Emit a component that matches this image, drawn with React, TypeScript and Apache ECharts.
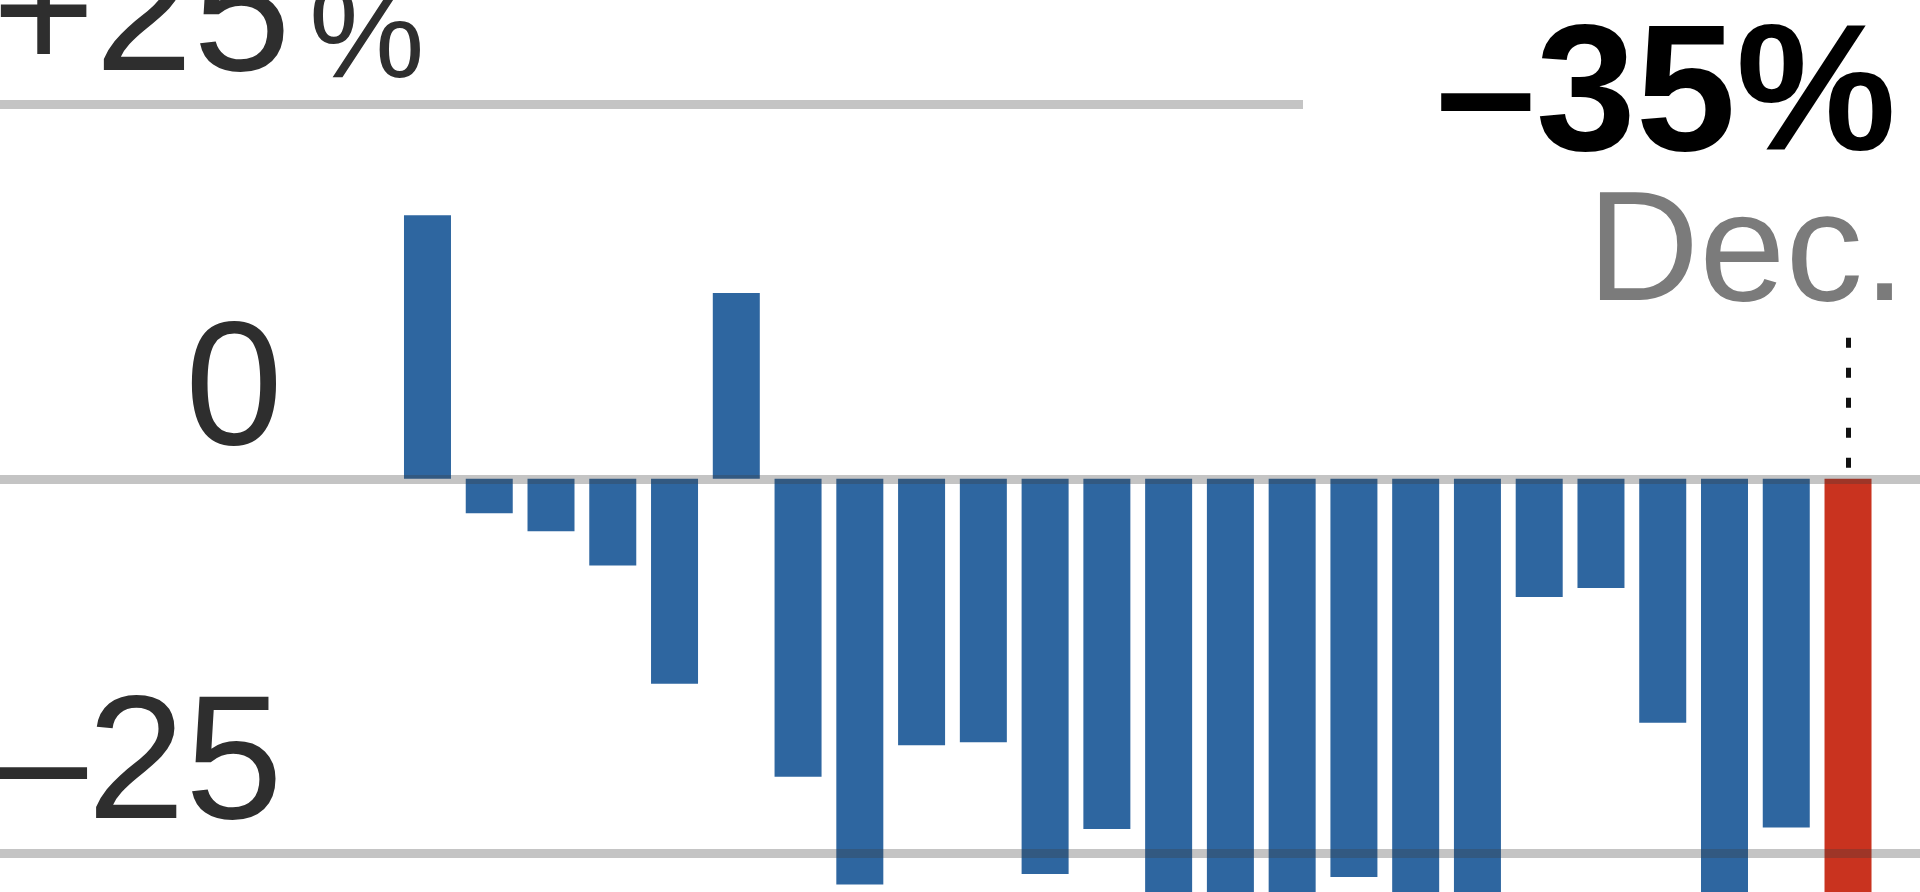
import { useEffect, useRef } from "react";
import * as echarts from "echarts";

// 24 months, the last one is highlighted
const categories = [
  "Jan. 2019", "Feb. 2019", "Mar. 2019", "Apr. 2019", "May 2019", "June 2019",
  "July 2019", "Aug. 2019", "Sept. 2019", "Oct. 2019", "Nov. 2019", "Dec. 2019",
  "Jan. 2020", "Feb. 2020", "Mar. 2020", "Apr. 2020", "May 2020", "June 2020",
  "July 2020", "Aug. 2020", "Sept. 2020", "Oct. 2020", "Nov. 2020", "Dec. 2020",
];

// percent change (bars cut by the frame are estimates)
const changes = [
  17.6, -2.3, -3.5, -5.8, -13.7, 12.4, -19.9, -27.1, -17.8, -17.6, -26.4, -23.4,
  -31, -30, -33, -26.6, -31, -30, -7.9, -7.3, -16.3, -30, -23.3, -35,
];

const yMin = -50;
const yMax = 25;
const yStep = 25;
const calloutTop = 9.6;

const FONT = '"Liberation Sans", Arial, Helvetica, sans-serif';
const BLUE = "#2e66a0";
const RED = "#c9331f";
const INK = "#2e2e2e";

const highlight = changes.length - 1;

function tickLabel(v: number) {
  if (v === 0) return "{v|0}";
  const s = v > 0 ? `+${v}` : `\u2013${Math.abs(v)}`;
  return v === yMax ? `{v|${s}}{p|%}` : `{v|${s}}`;
}

export default function App() {
  const ref = useRef<HTMLDivElement>(null);

  useEffect(() => {
    if (!ref.current) return;
    const chart = echarts.init(ref.current, undefined, { renderer: "svg" });
    const gridTop = 104.5;
    const gridHeight = 1122.75;
    chart.setOption({
      animation: false,
      backgroundColor: "#fff",
      grid: [
        { left: 396.6, top: gridTop, width: 1482.3, height: gridHeight, outerBoundsMode: "none" },
        { left: 0, top: gridTop, width: 1920, height: gridHeight, outerBoundsMode: "none" },
      ],
      xAxis: [
        { type: "category", gridIndex: 0, data: categories, show: false },
        { type: "category", gridIndex: 1, data: [""], show: false },
      ],
      yAxis: [
        { type: "value", gridIndex: 0, min: yMin, max: yMax, interval: yStep, show: false },
        {
          type: "value",
          gridIndex: 1,
          min: yMin,
          max: yMax,
          interval: yStep,
          z: 5,
          axisLine: { show: false },
          axisTick: { show: false },
          splitLine: {
            show: true,
            lineStyle: { color: "rgba(60,60,60,0.3)", width: 9 },
          },
          axisLabel: {
            inside: true,
            margin: 0,
            align: "left",
            verticalAlign: "middle",
            padding: [0, 0, 192, 0],
            formatter: tickLabel,
            rich: {
              v: {
                fontFamily: FONT,
                fontSize: 176,
                color: INK,
                width: 283,
                align: "right",
              },
              p: {
                fontFamily: FONT,
                fontSize: 130,
                color: INK,
                verticalAlign: "bottom",
                padding: [0, 0, 0, 26],
              },
            },
          },
        },
      ],
      series: [
        {
          type: "bar",
          xAxisIndex: 0,
          yAxisIndex: 0,
          barWidth: 47,
          itemStyle: { color: BLUE },
          data: changes.map((v, i) =>
            i === highlight ? { value: v, itemStyle: { color: RED } } : v
          ),
          markLine: {
            silent: true,
            symbol: ["none", "none"],
            label: { show: false },
            lineStyle: { color: "#111", width: 5, type: [10, 20], dashOffset: 19 },
            data: [[{ coord: [highlight, 0] }, { coord: [highlight, calloutTop] }]],
          },
        },
      ],
      graphic: [
        // the top rule stops short of the callout
        {
          type: "rect",
          z: 50,
          shape: { x: 1303, y: 96, width: 617, height: 18 },
          style: { fill: "#fff" },
        },
        {
          type: "text",
          z: 60,
          x: 1896,
          y: 87,
          style: {
            text: `\u2013${Math.abs(changes[highlight])}%`,
            fontFamily: FONT,
            fontSize: 180,
            fontWeight: "bold",
            fill: "#000",
            align: "right",
            verticalAlign: "middle",
          },
        },
        {
          type: "text",
          z: 60,
          x: 1906,
          y: 246,
          style: {
            text: categories[highlight].split(" ")[0],
            fontFamily: FONT,
            fontSize: 155,
            fill: "#7b7b7b",
            align: "right",
            verticalAlign: "middle",
          },
        },
      ],
    });
    return () => chart.dispose();
  }, []);

  return (
    <div
      style={{
        position: "fixed",
        left: 0,
        top: 0,
        width: 1920,
        height: 892,
        overflow: "hidden",
        background: "#fff",
      }}
    >
      <div ref={ref} style={{ width: 1920, height: 1300 }} />
    </div>
  );
}
